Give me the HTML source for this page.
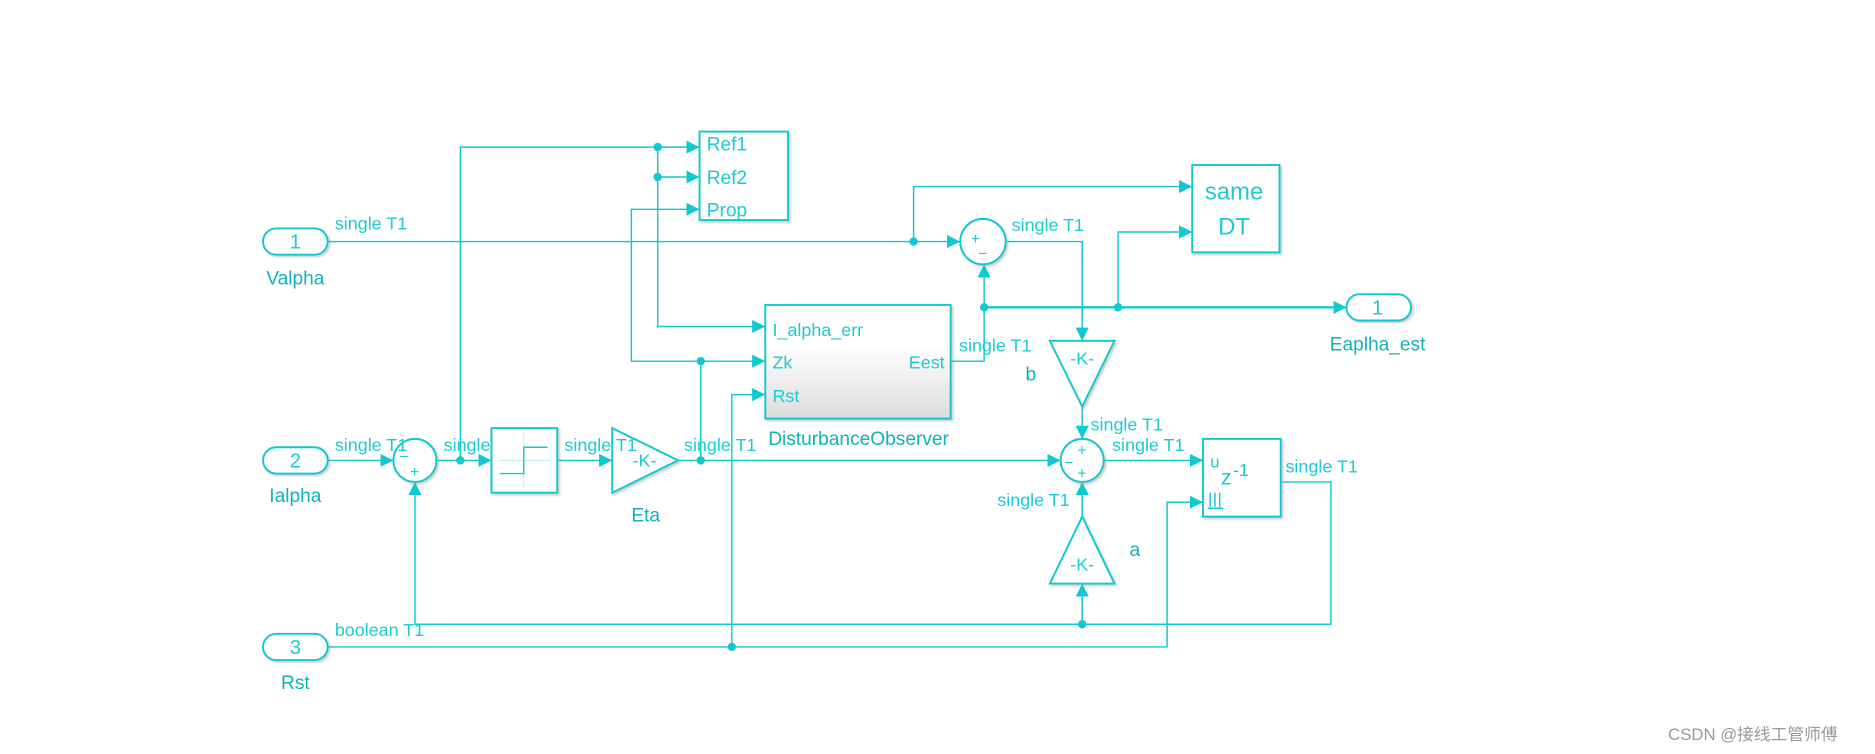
<!DOCTYPE html>
<html><head><meta charset="utf-8"><style>
html,body{margin:0;padding:0;background:#fff;}
svg{display:block}
text{font-family:"Liberation Sans",sans-serif;fill:#1ccbd2;}
.l{fill:#0fb3b8}
</style></head><body>
<svg width="1875" height="754" viewBox="0 0 1568 630.5" xmlns="http://www.w3.org/2000/svg">
<defs>
<marker id="a" markerWidth="11" markerHeight="12" refX="10" refY="5" orient="auto" markerUnits="userSpaceOnUse" viewBox="0 0 10 10"><path d="M0,0 L10,5 L0,10 z" fill="#10c8cf"/></marker>
<linearGradient id="g" x1="0" y1="0" x2="0" y2="1"><stop offset="0" stop-color="#ffffff"/><stop offset="0.35" stop-color="#ffffff"/><stop offset="1" stop-color="#dcdcdc"/></linearGradient>
<filter id="s"><feDropShadow dx="1.5" dy="1.5" stdDeviation="1" flood-color="#999" flood-opacity="0.5"/></filter>
</defs>
<g stroke="#10c8cf" stroke-width="1.2" fill="none">
<path d="M274,202 H803" marker-end="url(#a)"/>
<path d="M764,202 V156 H997" marker-end="url(#a)"/>
<path d="M841,202 H905 V285" marker-end="url(#a)"/>
<path d="M795,302 H823 V257"/>
<path d="M823,257 V221" marker-end="url(#a)"/>
<path d="M823,257 H1126" stroke-width="2" marker-end="url(#a)"/>
<path d="M935,257 V194 H997" marker-end="url(#a)"/>
<path d="M385,385 V123 H585" marker-end="url(#a)"/>
<path d="M550,123 V273 H640" marker-end="url(#a)"/>
<path d="M550,148 H585" marker-end="url(#a)"/>
<path d="M586,302 H528 V175 H585" marker-end="url(#a)"/>
<path d="M586,385 V302 H640" marker-end="url(#a)"/>
<path d="M612,541 V330 H640" marker-end="url(#a)"/>
<path d="M274,385 H329" marker-end="url(#a)"/>
<path d="M365,385 H411" marker-end="url(#a)"/>
<path d="M466,385 H512" marker-end="url(#a)"/>
<path d="M567,385 H887" marker-end="url(#a)"/>
<path d="M923,385 H1006" marker-end="url(#a)"/>
<path d="M905,340 V367" marker-end="url(#a)"/>
<path d="M905,432 V403" marker-end="url(#a)"/>
<path d="M1071,403 H1113 V522 H347 V403" marker-end="url(#a)"/>
<path d="M905,522 V488" marker-end="url(#a)"/>
<path d="M274,541 H976 V420 H1006" marker-end="url(#a)"/>
<rect x="220" y="191" width="54" height="22" rx="11" fill="#fff" stroke-width="1.6" filter="url(#s)"/>
<rect x="220" y="374" width="54" height="22" rx="11" fill="#fff" stroke-width="1.6" filter="url(#s)"/>
<rect x="220" y="530" width="54" height="22" rx="11" fill="#fff" stroke-width="1.6" filter="url(#s)"/>
<rect x="1126" y="246" width="54" height="22" rx="11" fill="#fff" stroke-width="1.6" filter="url(#s)"/>
<circle cx="822" cy="202" r="19" fill="#fff" stroke-width="1.6" filter="url(#s)"/>
<circle cx="347" cy="385" r="18" fill="#fff" stroke-width="1.6" filter="url(#s)"/>
<circle cx="905" cy="385" r="18" fill="#fff" stroke-width="1.6" filter="url(#s)"/>
<rect x="585" y="110" width="74" height="74" fill="#fff" stroke-width="1.6" filter="url(#s)"/>
<rect x="997" y="138" width="73" height="73" fill="#fff" stroke-width="1.6" filter="url(#s)"/>
<rect x="640" y="255" width="155" height="95" fill="url(#g)" stroke-width="1.6" filter="url(#s)"/>
<rect x="411" y="358" width="55" height="54" fill="#fff" stroke-width="1.6" filter="url(#s)"/>
<rect x="1006" y="367" width="65" height="65" fill="#fff" stroke-width="1.6" filter="url(#s)"/>
<path d="M512,358 L567,385 L512,412 Z" fill="#fff" stroke-width="1.6" filter="url(#s)"/>
<path d="M878,285 L932,285 L905,340 Z" fill="#fff" stroke-width="1.6" filter="url(#s)"/>
<path d="M878,488 L932,488 L905,432 Z" fill="#fff" stroke-width="1.6" filter="url(#s)"/>
<path d="M418,385 H460 M438,362 V408" stroke="#bfeff1" stroke-width="1"/>
<path d="M418,396 H438 V374 H458" stroke-width="1.2"/>
<path d="M1012,412 V424 M1016,412 V424 M1020,412 V424 M1010,425 H1023" stroke-width="1.2"/>
</g>
<g fill="#10c8cf">
<circle cx="764" cy="202" r="3.5"/><circle cx="823" cy="257" r="3.5"/><circle cx="935" cy="257" r="3.5"/>
<circle cx="550" cy="123" r="3.5"/><circle cx="550" cy="148" r="3.5"/><circle cx="586" cy="302" r="3.5"/>
<circle cx="586" cy="385" r="3.5"/><circle cx="385" cy="385" r="3.5"/><circle cx="612" cy="541" r="3.5"/>
<circle cx="905" cy="522" r="3.5"/>
</g>
<g font-size="15">
<text x="247" y="208" text-anchor="middle" font-size="17">1</text>
<text x="247" y="391" text-anchor="middle" font-size="17">2</text>
<text x="247" y="547" text-anchor="middle" font-size="17">3</text>
<text x="1152" y="263" text-anchor="middle" font-size="17">1</text>
<text class="l" x="247" y="238" text-anchor="middle" font-size="16">Valpha</text>
<text class="l" x="247" y="420" text-anchor="middle" font-size="16">Ialpha</text>
<text class="l" x="247" y="576" text-anchor="middle" font-size="16">Rst</text>
<text class="l" x="1152" y="293" text-anchor="middle" font-size="16">Eaplha_est</text>
<text class="l" x="540" y="436" text-anchor="middle" font-size="16">Eta</text>
<text class="l" x="862" y="318" text-anchor="middle" font-size="16">b</text>
<text class="l" x="949" y="465" text-anchor="middle" font-size="16">a</text>
<text x="280" y="192">single T1</text>
<text x="846" y="193">single T1</text>
<text x="802" y="294">single T1</text>
<text x="280" y="377">single T1</text>
<text x="371" y="377">single</text>
<text x="472" y="377">single T1</text>
<text x="572" y="377">single T1</text>
<text x="912" y="360">single T1</text>
<text x="930" y="377">single T1</text>
<text x="834" y="423">single T1</text>
<text x="1075" y="395">single T1</text>
<text x="280" y="532">boolean T1</text>
<text x="591" y="126" font-size="16">Ref1</text>
<text x="591" y="154" font-size="16">Ref2</text>
<text x="591" y="181" font-size="16">Prop</text>
<text x="1032" y="167" text-anchor="middle" font-size="20">same</text>
<text x="1032" y="196" text-anchor="middle" font-size="20">DT</text>
<text x="646" y="281">I_alpha_err</text>
<text x="646" y="308">Zk</text>
<text x="790" y="308" text-anchor="end">Eest</text>
<text x="646" y="336">Rst</text>
<text x="718" y="372" text-anchor="middle" font-size="16" style="fill:#0fb3b8">DisturbanceObserver</text>
<text x="539" y="390" text-anchor="middle">-K-</text>
<text x="905" y="305" text-anchor="middle">-K-</text>
<text x="905" y="477" text-anchor="middle">-K-</text>
<text x="1012" y="391" font-size="14">u</text>
<text x="1021" y="405" font-size="18">z</text>
<text x="1031" y="398" font-size="15">-1</text>
<text x="812" y="204" font-size="13">+</text>
<text x="818" y="216" font-size="13">−</text>
<text x="334" y="386" font-size="13">−</text>
<text x="343" y="399" font-size="13">+</text>
<text x="901" y="381" font-size="13">+</text>
<text x="890" y="391" font-size="13">−</text>
<text x="901" y="400" font-size="13">+</text>
<text x="1395" y="619" font-size="14" style="fill:#999" font-family="Liberation Sans, Noto Sans CJK SC, sans-serif">CSDN @接线工管师傅</text>
</g>
</svg>
</body></html>
